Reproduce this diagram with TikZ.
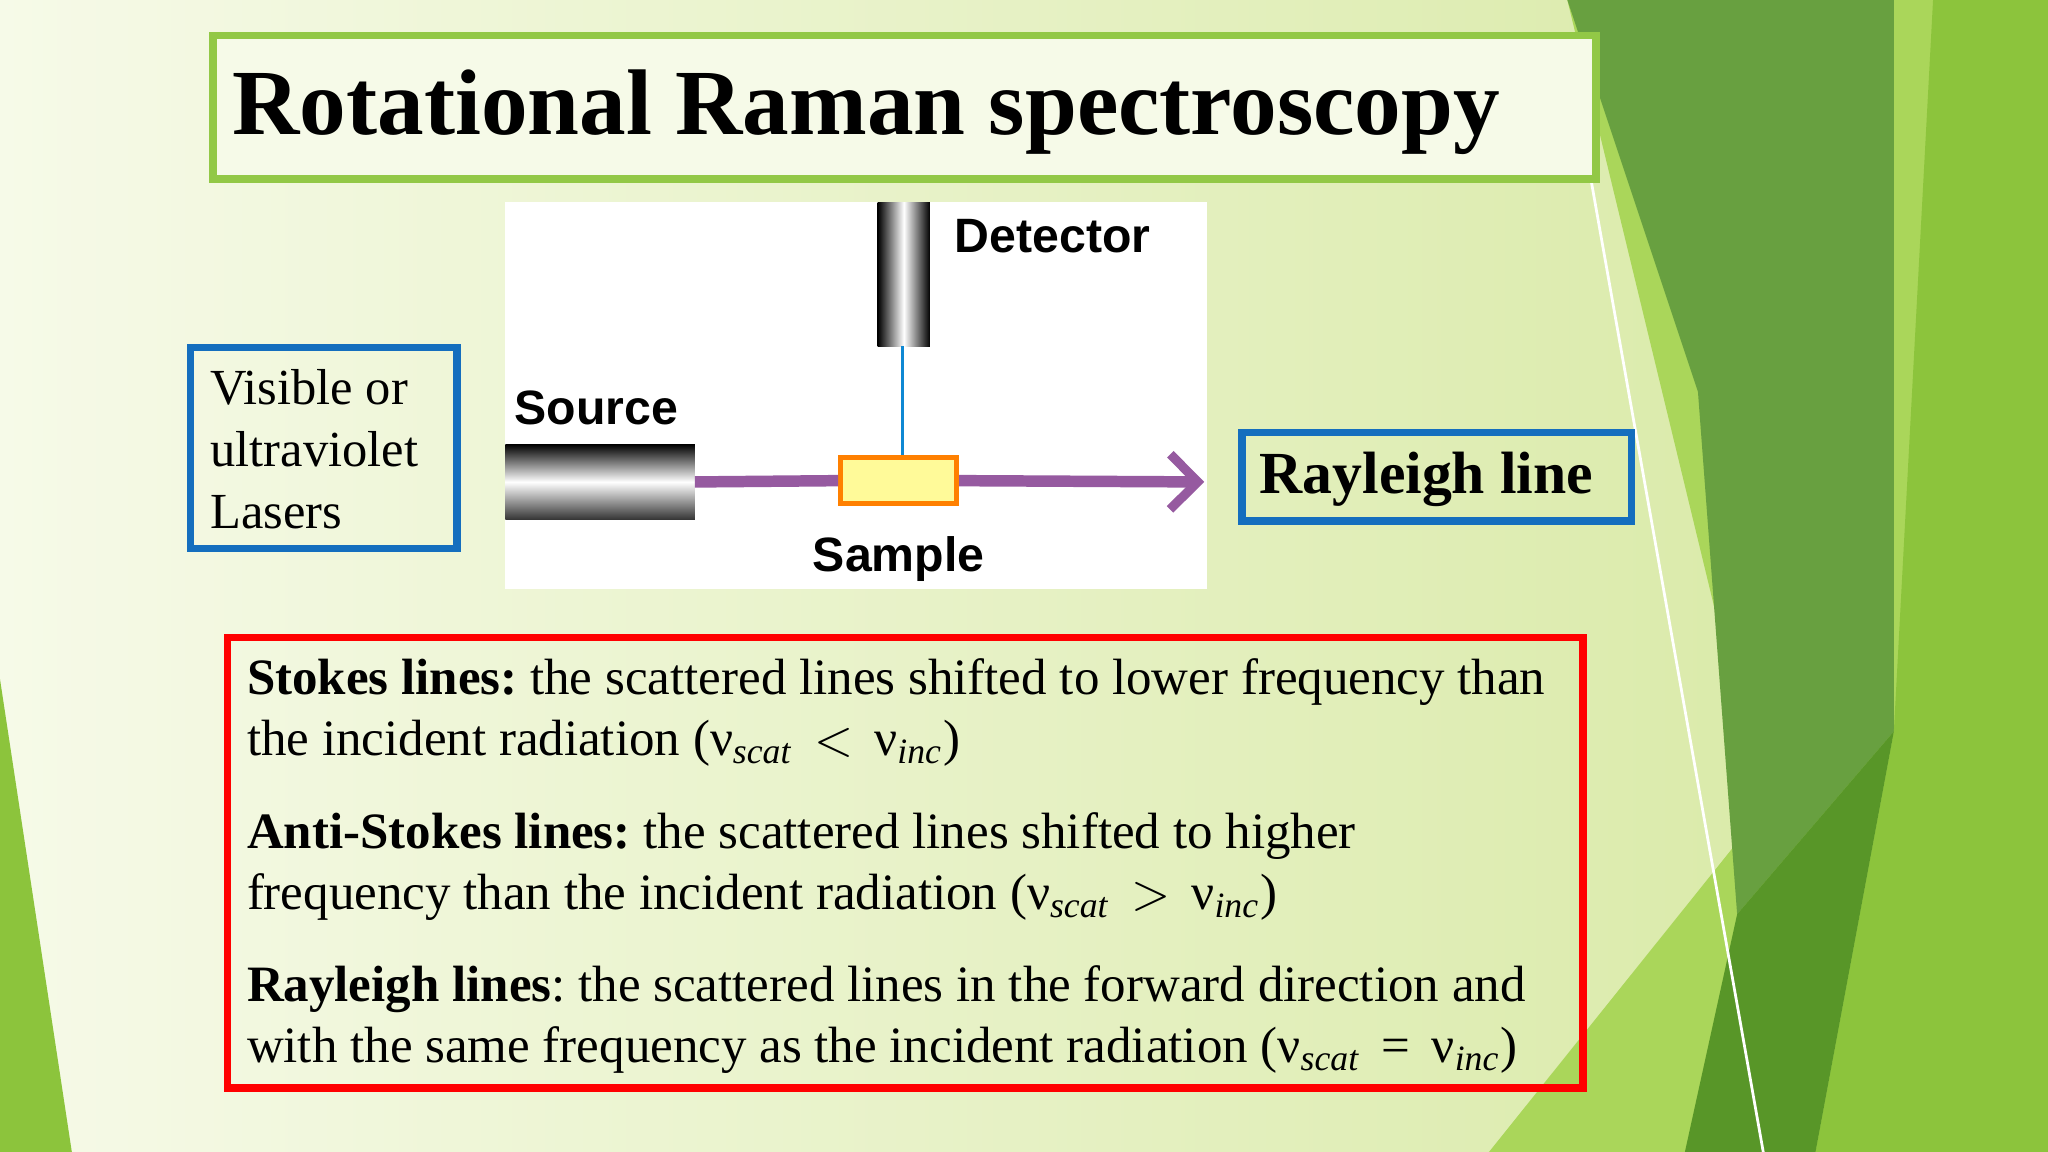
\documentclass[tikz,border=0pt]{standalone}
\usepackage{fontspec}
\setmainfont{Liberation Serif}
\newfontfamily\labelfont{Liberation Sans}
\usetikzlibrary{calc,arrows.meta}
\definecolor{bgpale}{RGB}{246,250,232}
\definecolor{bgmid}{RGB}{214,232,160}
\definecolor{leaf0}{RGB}{140,196,60}
\definecolor{leaf1}{RGB}{104,160,64}
\definecolor{leaf2}{RGB}{170,214,90}
\definecolor{leaf3}{RGB}{88,150,40}
\definecolor{framegreen}{RGB}{146,200,70}
\definecolor{frameblue}{RGB}{20,110,190}
\definecolor{beam}{RGB}{150,90,160}

\begin{document}
\frenchspacing
\begin{tikzpicture}[x=0.01cm, y=-0.01cm, line width=1.2pt,
    frame box/.style={draw, line width=1.6pt},
    body text/.style={font=\fontsize{11.1pt}{13.4pt}\selectfont, align=left, inner sep=0pt},
    device label/.style={font=\labelfont\bfseries\fontsize{10.5pt}{12pt}\selectfont, inner sep=0pt}
  ]
  \useasboundingbox (0,0) rectangle (1568,882);
  % background
  \shade [left color=bgpale, right color=bgmid] (0,0) rectangle (1568,882);
  \fill [leaf2] (1200,0) -- (1568,0) -- (1568,882) -- (1140,882) -- (1350,620) -- cycle;
  \fill [leaf1] (1200,0) -- (1450,0) -- (1450,560) -- (1330,700) -- (1300,300) -- cycle;
  \fill [leaf0] (1480,0) -- (1568,0) -- (1568,882) -- (1390,882) -- (1450,560) -- cycle;
  \fill [leaf3] (1330,700) -- (1450,560) -- (1390,882) -- (1290,882) -- cycle;
  \fill [leaf0] (0,520) -- (55,882) -- (0,882) -- cycle;
  \draw [white, line width=0.6pt] (1215,120) -- (1350,882);

  % title
  \draw [frame box, draw=framegreen, fill=bgpale] (163,27) rectangle (1222,137);
  \node [font=\bfseries\fontsize{20.3pt}{24pt}\selectfont, anchor=west, inner sep=0pt] (title) at (176,86)
    {Rotational Raman spectroscopy};

  % apparatus
  \fill [white] (387,155) rectangle (924,451);
  \shade [left color=black, right color=black, middle color=white] (672,155) rectangle (712,265);
  \coordinate (detbot) at (691,265);
  \shade [top color=black, bottom color=black!80, middle color=white] (387,340) rectangle (532,398);
  \coordinate (srcout) at (532,369);
  \coordinate (beamend) at (922,369);
  \node [draw=orange, fill=yellow!40, minimum width=0.89cm, minimum height=0.35cm, inner sep=0pt, line width=1pt] (sample) at (688,368) {};
  \draw [beam, line width=2.5pt] (srcout) -- (sample.west);
  \draw [beam, line width=2.5pt, -{Straight Barb[length=6pt, width=12pt, line width=2pt]}] (sample.east) -- (beamend);
  \draw [cyan!70!blue, line width=0.8pt] (detbot) -- (sample.north -| detbot);
  \node [device label, anchor=west] (detector) at (729,181) {Detector};
  \node [device label, anchor=west] (source) at (392,312) {Source};
  \node [device label] (samplelabel) at (688,428) {Sample};

  % side boxes
  \draw [frame box, draw=frameblue] (146,266) rectangle (350,420);
  \node [body text, anchor=north west, font=\fontsize{11pt}{13.5pt}\selectfont] (laser) at (159,281)
    {Visible or\\ultraviolet\\Lasers};
  \draw [frame box, draw=frameblue] (951,331) rectangle (1249,399);
  \node [font=\bfseries\fontsize{13pt}{15pt}\selectfont] (rayleigh) at (1092,367) {Rayleigh line};

  % definitions
  \draw [frame box, draw=red] (174,488) rectangle (1212,833);
  \node [body text, anchor=north west] (stokes) at (187,502)
    {\textbf{Stokes lines:} the scattered lines shifted to lower frequency than\\the incident radiation (ν\textsubscript{\itshape scat} \,$<$\, ν\textsubscript{\itshape inc})};
  \node [body text, anchor=north west] (anti) at (187,620)
    {\textbf{Anti-Stokes lines:} the scattered lines shifted to higher\\frequency than the incident radiation (ν\textsubscript{\itshape scat} \,$>$\, ν\textsubscript{\itshape inc})};
  \node [body text, anchor=north west] (rayl) at (187,737)
    {\textbf{Rayleigh lines}: the scattered lines in the forward direction and\\with the same frequency as the incident radiation (ν\textsubscript{\itshape scat} \,=\, ν\textsubscript{\itshape inc})};
\end{tikzpicture}
\end{document}
